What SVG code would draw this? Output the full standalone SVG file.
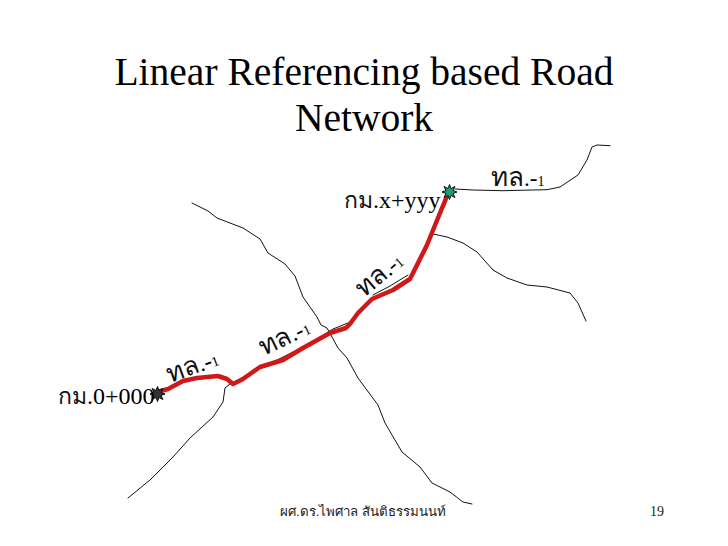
<svg xmlns="http://www.w3.org/2000/svg" width="728" height="546" viewBox="0 0 728 546">
<style>
.t{font-family:"Liberation Serif","Noto Sans",serif;fill:#000}
.th{font-family:"Liberation Sans","Noto Sans",sans-serif;fill:#111}
.title{font-size:39.5px;text-anchor:middle}
.lab{font-size:23px}
.labth{font-size:26px}
.km{font-size:23px}
.kml{font-size:24px}
.one{font-family:"Liberation Serif",serif;font-size:14px}
.road{fill:none;stroke:#111;stroke-width:1;stroke-linejoin:round;stroke-linecap:round}
.main{fill:none;stroke:#d01818;stroke-width:4.500;stroke-linejoin:round;stroke-linecap:round}
.star{fill:#1f9a78;stroke:#111;stroke-width:1}
</style>
<rect width="728" height="546" fill="#fff"/>
<g id="title">
<text class="t title" x="364" y="85">Linear Referencing based Road</text>
<text class="t title" x="364" y="131">Network</text>
</g>
<g id="connectors">
<path class="road" d="M455 189L473 190L503 190.700L547 189.700L560 187L578 175L587 160L592 147L597 145L610 145.700"/>
<path class="road" d="M433 234L447 237L463 243L477 252L493 270L507 278L527 285L547 287L570 293L578 303L586 321"/>
<path class="road" d="M192 203L208 211L217 218L243 228L260 239L268 253L285 264L295 276L303 297L317 317L321 325L327 328L332 337L338 348L347 358L358 378L378 405L385 423L402 452L420 467L432 483L450 492L463 502L472 504"/>
<path class="road" d="M230 384L225 388L223 402L213 417L190 438L173 457L150 480L128 498"/>
<path class="road" d="M236 382L243 377L257 368L277 360L293 352L317 339L333 329L348 323"/>
<path class="road" d="M349 322L356 315M373 295L390 286L408 275M441 214L447 200"/>
<path class="main" d="M157 392L168 389L183 381L197 378L218 376L227 379L233 384L243 379L260 367L283 360L303 348L330 333L346 328L350 324L358 313L372 299L393 290L410 279L427 245L440 213L447 196"/>
</g>
<g id="node-km0">
<polygon class="star" style="fill:#333" points="157.500,386.500 159,390.500 163,388.500 161,392.500 165,394 161,395.500 163,399.500 159,397.500 157.500,401.500 156,397.500 152,399.500 154,395.500 150,394 154,392.500 152,388.500 156,390.500"/>
<text x="58" y="404"><tspan class="th km">กม</tspan><tspan class="t kml">.0+000</tspan></text>
</g>
<g id="node-kmx">
<polygon class="star" points="449.500,184.500 451,188.500 455,186.500 453,190.500 457,192 453,193.500 455,197.500 451,195.500 449.500,199.500 448,195.500 444,197.500 446,193.500 442,192 446,190.500 444,186.500 448,188.500"/>
<text x="344" y="208"><tspan class="th km">กม</tspan><tspan class="t kml">.x+yyy</tspan></text>
</g>
<g id="label-a">
<text transform="translate(491 186)" class="lab"><tspan class="th labth">ทล</tspan><tspan class="t">.-</tspan><tspan class="one">1</tspan></text>
</g>
<g id="label-b">
<text transform="translate(364 298) rotate(-40)" class="lab"><tspan class="th labth">ทล</tspan><tspan class="t">.-</tspan><tspan class="one">1</tspan></text>
</g>
<g id="label-c">
<text transform="translate(264 356) rotate(-26)" class="lab"><tspan class="th labth">ทล</tspan><tspan class="t">.-</tspan><tspan class="one">1</tspan></text>
</g>
<g id="label-d">
<text transform="translate(170 383) rotate(-20)" class="lab"><tspan class="th labth">ทล</tspan><tspan class="t">.-</tspan><tspan class="one">1</tspan></text>
</g>
<g id="footer">
<text x="280" y="516" class="th" style="font-size:13.300px;fill:#222">ผศ.ดร.ไพศาล สันติธรรมนนท์</text>
<text x="650" y="516" class="t" style="font-size:14px;fill:#222">19</text>
</g>
</svg>
